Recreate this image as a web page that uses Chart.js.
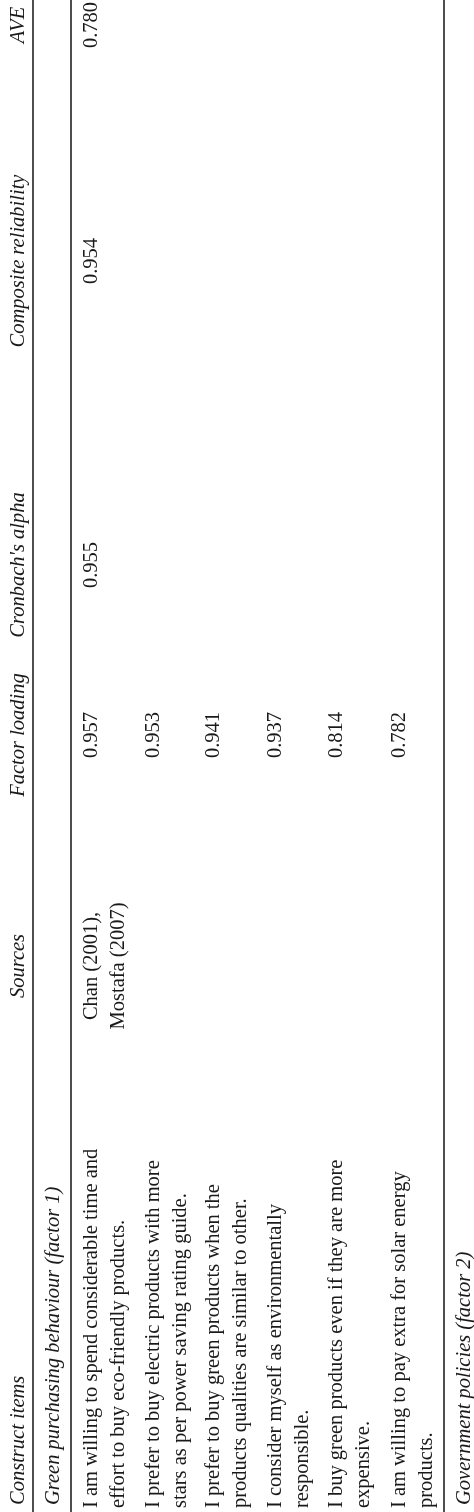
<!DOCTYPE html>
<html>
<head>
<meta charset="utf-8">
<script src="https://cdn.jsdelivr.net/npm/chart.js@4"></script>
<style>
  html, body { margin: 0; padding: 0; background: #fff; }
  #wrap { width: 474px; height: 1512px; position: relative; }
</style>
</head>
<body>
<div id="wrap"><canvas id="tableChart"></canvas></div>
<script>
// table content (the page is a rotated table, text reads bottom-to-top)
const headers = ['Construct items', 'Sources', 'Factor loading', "Cronbach's alpha", 'Composite reliability', 'AVE'];
const groupTitles = ['Green purchasing behaviour (factor 1)', 'Government policies (factor 2)'];
const items = [
    ['I am willing to spend considerable time and', 'effort to buy eco-friendly products.'],
    ['I prefer to buy electric products with more', 'stars as per power saving rating guide.'],
    ['I prefer to buy green products when the', 'products qualities are similar to other.'],
    ['I consider myself as environmentally', 'responsible.'],
    ['I buy green products even if they are more', 'expensive.'],
    ['I am willing to pay extra for solar energy', 'products.']
];
const sources = ['Chan (2001),', 'Mostafa (2007)'];
const factorLoading = [0.957, 0.953, 0.941, 0.937, 0.814, 0.782];
const cronbachAlpha = 0.955;
const compositeReliability = 0.954;
const ave = 0.780;

// layout (in page pixels, used through the chart scales)
const colCenter = { sources: 966, loading: 735, alpha: 565, composite: 261, ave: 25 };
const itemStart = 1508;
const headerBase = 24;
const groupBase = [59, 470];
const rowBase = [97, 159, 219, 281, 342, 405];
const lineGap = 26.5;
const rules = [33, 71, 444];

const SERIF = '"Liberation Serif", "DejaVu Serif", serif';

const tablePlugin = {
    id: 'tablePlugin',
    afterDraw(chart) {
        const ctx = chart.ctx;
        const sx = chart.scales.x, sy = chart.scales.y;
        const X = v => sx.getPixelForValue(v);
        const Y = v => sy.getPixelForValue(v);

        function txt(s, base, pos, align, italic) {
            ctx.save();
            ctx.translate(X(base), Y(pos));
            ctx.rotate(-Math.PI / 2);
            ctx.font = (italic ? 'italic ' : '') + '20.5px ' + SERIF;
            ctx.fillStyle = '#1a1a1a';
            ctx.textAlign = align;
            ctx.textBaseline = 'alphabetic';
            ctx.fillText(s, 0, 0);
            ctx.restore();
        }

        // rules
        ctx.save();
        ctx.strokeStyle = '#222';
        ctx.lineWidth = 1.6;
        rules.forEach(r => {
            ctx.beginPath();
            ctx.moveTo(X(r), Y(0));
            ctx.lineTo(X(r), Y(1512));
            ctx.stroke();
        });
        ctx.restore();

        // headers
        txt(headers[0], headerBase, itemStart - 3, 'left', true);
        txt(headers[1], headerBase, colCenter.sources, 'center', true);
        txt(headers[2], headerBase, colCenter.loading, 'center', true);
        txt(headers[3], headerBase, colCenter.alpha, 'center', true);
        txt(headers[4], headerBase, colCenter.composite, 'center', true);
        txt(headers[5], headerBase, colCenter.ave, 'center', true);

        // group titles
        txt(groupTitles[0], groupBase[0], itemStart - 3, 'left', true);
        txt(groupTitles[1], groupBase[1], itemStart - 3, 'left', true);

        // items and loadings
        items.forEach((lines, i) => {
            lines.forEach((l, j) => txt(l, rowBase[i] + j * lineGap, itemStart, 'left', false));
            txt(factorLoading[i].toFixed(3), rowBase[i], colCenter.loading, 'center', false);
        });
        sources.forEach((s, j) => txt(s, rowBase[0] + j * lineGap, colCenter.sources, 'center', false));
        txt(cronbachAlpha.toFixed(3), rowBase[0], colCenter.alpha, 'center', false);
        txt(compositeReliability.toFixed(3), rowBase[0], colCenter.composite, 'center', false);
        txt(ave.toFixed(3), rowBase[0], colCenter.ave, 'center', false);
    }
};

new Chart(document.getElementById('tableChart'), {
    type: 'scatter',
    data: { datasets: [{ data: [], pointRadius: 0 }] },
    options: {
        responsive: true,
        maintainAspectRatio: false,
        animation: false,
        layout: { padding: 0 },
        plugins: { legend: { display: false }, tooltip: { enabled: false } },
        scales: {
            x: { type: 'linear', min: 0, max: 474, display: false },
            y: { type: 'linear', min: 0, max: 1512, reverse: true, display: false }
        }
    },
    plugins: [tablePlugin]
});
</script>
</body>
</html>
